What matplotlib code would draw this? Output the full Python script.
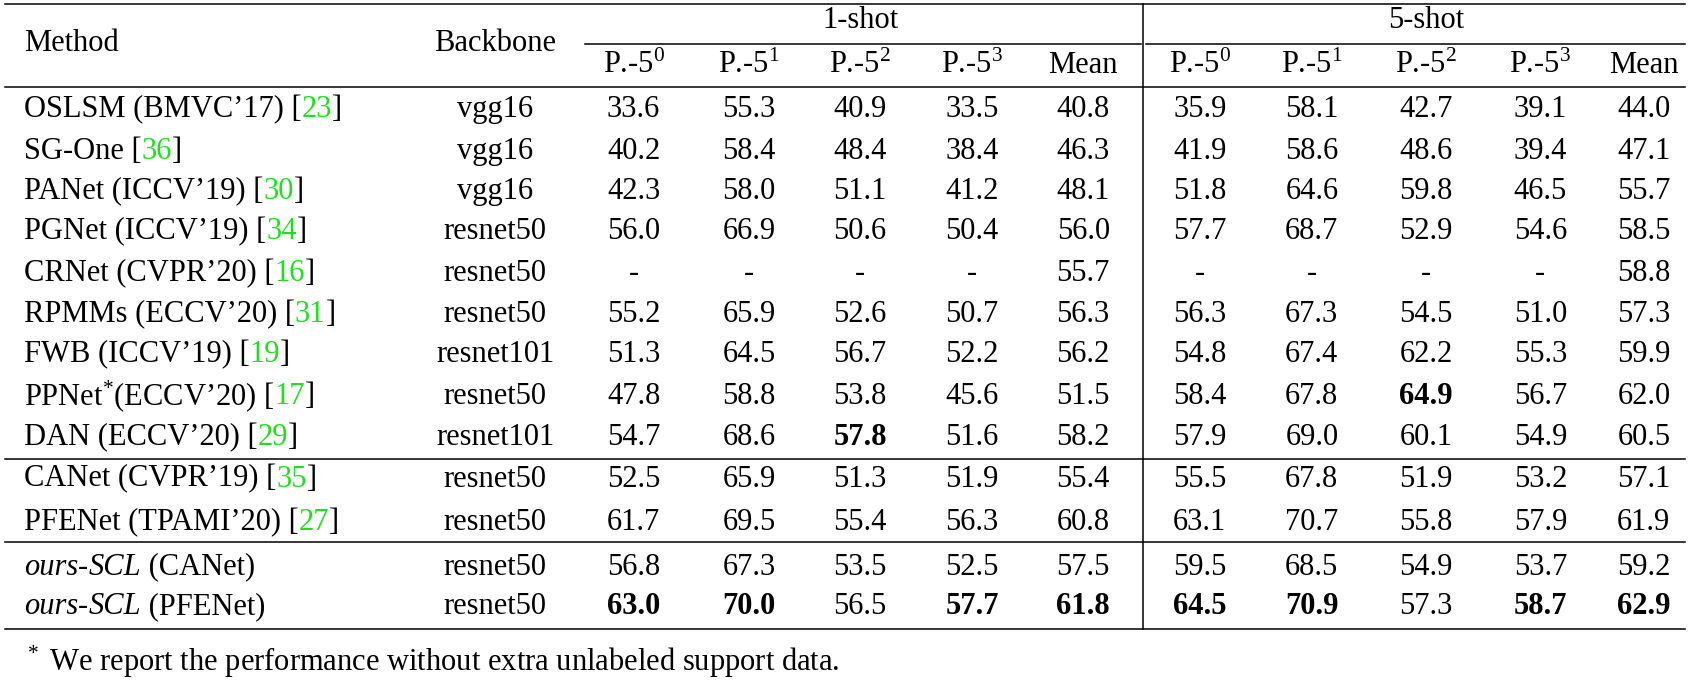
import matplotlib
matplotlib.use("Agg")
import matplotlib.pyplot as plt

plt.rcParams['font.family'] = ['Liberation Serif', 'DejaVu Serif']
plt.rcParams['mathtext.fontset'] = 'custom'
plt.rcParams['mathtext.rm'] = 'Liberation Serif'
plt.rcParams['mathtext.it'] = 'Liberation Serif:italic'

methods = [
    [("OSLSM (BMVC’17) [", 'k', 'normal'), ("23", 'g', 'normal'), ("]", 'k', 'normal')],
    [("SG-One [", 'k', 'normal'), ("36", 'g', 'normal'), ("]", 'k', 'normal')],
    [("PANet (ICCV’19) [", 'k', 'normal'), ("30", 'g', 'normal'), ("]", 'k', 'normal')],
    [("PGNet (ICCV’19) [", 'k', 'normal'), ("34", 'g', 'normal'), ("]", 'k', 'normal')],
    [("CRNet (CVPR’20) [", 'k', 'normal'), ("16", 'g', 'normal'), ("]", 'k', 'normal')],
    [("RPMMs (ECCV’20) [", 'k', 'normal'), ("31", 'g', 'normal'), ("]", 'k', 'normal')],
    [("FWB (ICCV’19) [", 'k', 'normal'), ("19", 'g', 'normal'), ("]", 'k', 'normal')],
    [("PPNet$^{*}$(ECCV’20) [", 'k', 'normal'), ("17", 'g', 'normal'), ("]", 'k', 'normal')],
    [("DAN (ECCV’20) [", 'k', 'normal'), ("29", 'g', 'normal'), ("]", 'k', 'normal')],
    [("CANet (CVPR’19) [", 'k', 'normal'), ("35", 'g', 'normal'), ("]", 'k', 'normal')],
    [("PFENet (TPAMI’20) [", 'k', 'normal'), ("27", 'g', 'normal'), ("]", 'k', 'normal')],
    [("ours", 'k', 'italic'), ("-", 'k', 'normal'), ("SCL", 'k', 'italic'), (" (CANet)", 'k', 'normal')],
    [("ours", 'k', 'italic'), ("-", 'k', 'normal'), ("SCL", 'k', 'italic'), (" (PFENet)", 'k', 'normal')],
]
backbones = ["vgg16", "vgg16", "vgg16", "resnet50", "resnet50", "resnet50", "resnet101",
             "resnet50", "resnet101", "resnet50", "resnet50", "resnet50", "resnet50"]
one_shot = [
    ["33.6", "55.3", "40.9", "33.5", "40.8"],
    ["40.2", "58.4", "48.4", "38.4", "46.3"],
    ["42.3", "58.0", "51.1", "41.2", "48.1"],
    ["56.0", "66.9", "50.6", "50.4", "56.0"],
    ["-", "-", "-", "-", "55.7"],
    ["55.2", "65.9", "52.6", "50.7", "56.3"],
    ["51.3", "64.5", "56.7", "52.2", "56.2"],
    ["47.8", "58.8", "53.8", "45.6", "51.5"],
    ["54.7", "68.6", "57.8", "51.6", "58.2"],
    ["52.5", "65.9", "51.3", "51.9", "55.4"],
    ["61.7", "69.5", "55.4", "56.3", "60.8"],
    ["56.8", "67.3", "53.5", "52.5", "57.5"],
    ["63.0", "70.0", "56.5", "57.7", "61.8"],
]
five_shot = [
    ["35.9", "58.1", "42.7", "39.1", "44.0"],
    ["41.9", "58.6", "48.6", "39.4", "47.1"],
    ["51.8", "64.6", "59.8", "46.5", "55.7"],
    ["57.7", "68.7", "52.9", "54.6", "58.5"],
    ["-", "-", "-", "-", "58.8"],
    ["56.3", "67.3", "54.5", "51.0", "57.3"],
    ["54.8", "67.4", "62.2", "55.3", "59.9"],
    ["58.4", "67.8", "64.9", "56.7", "62.0"],
    ["57.9", "69.0", "60.1", "54.9", "60.5"],
    ["55.5", "67.8", "51.9", "53.2", "57.1"],
    ["63.1", "70.7", "55.8", "57.9", "61.9"],
    ["59.5", "68.5", "54.9", "53.7", "59.2"],
    ["64.5", "70.9", "57.3", "58.7", "62.9"],
]
bold_one = {(8, 2), (12, 0), (12, 1), (12, 3), (12, 4)}
bold_five = {(7, 2), (12, 0), (12, 1), (12, 3), (12, 4)}
sub_headers = ["P.-5$^0$", "P.-5$^1$", "P.-5$^2$", "P.-5$^3$", "Mean"]
footnote = "$^*$ We report the performance without extra unlabeled support data."

W, H = 1707, 682
S = 1707 / 1568
fig = plt.figure(figsize=(W / 100, H / 100), dpi=100)
ax = fig.add_axes([0, 0, 1, 1])
# data coordinates measured on a 1568-wide view; scaled to full size
ax.set_xlim(0, W / S); ax.set_ylim(H / S, 0); ax.axis('off')
FS = 22
GREEN = '#22dd22'

def hline(y, x0=5, x1=1548, lw=1.1):
    ax.plot([x0, x1], [y, y], color='k', lw=lw)

hline(4); hline(80); hline(422); hline(498); hline(578)
ax.plot([537, 1048], [40, 40], color='k', lw=1.1)
ax.plot([1053, 1548], [40, 40], color='k', lw=1.1)
ax.plot([1050, 1050], [4, 578], color='k', lw=1.1)

ax.text(22, 40, "Method", fontsize=FS, va='center', ha='left')
ax.text(455, 40, "Backbone", fontsize=FS, va='center', ha='center')
ax.text(790, 19, "1-shot", fontsize=FS, va='center', ha='center')
ax.text(1310, 19, "5-shot", fontsize=FS, va='center', ha='center')
xs1 = [582, 688, 790, 893, 995]
xs5 = [1102, 1205, 1310, 1415, 1510]
for x, s in zip(xs1 + xs5, sub_headers * 2):
    ax.text(x, 60, s, fontsize=FS, va='center', ha='center')

ys = [101, 139, 176, 213, 251, 289, 326, 364, 402, 440, 480, 521, 557]
fig.canvas.draw()
r = fig.canvas.get_renderer()
inv = ax.transData.inverted()
for i, y in enumerate(ys):
    x = 22
    for s, c, st in methods[i]:
        t = ax.text(x, y, s, fontsize=FS, va='center', ha='left', style=st,
                    color=GREEN if c == 'g' else 'k')
        bb = t.get_window_extent(r)
        x = inv.transform((bb.x1, bb.y1))[0]
    ax.text(455, y, backbones[i], fontsize=FS, va='center', ha='center')
    for j in range(5):
        ax.text(xs1[j], y, one_shot[i][j], fontsize=FS, va='center', ha='center',
                weight='bold' if (i, j) in bold_one else 'normal')
        ax.text(xs5[j], y, five_shot[i][j], fontsize=FS, va='center', ha='center',
                weight='bold' if (i, j) in bold_five else 'normal')

ax.text(22, 608, footnote, fontsize=FS, va='center', ha='left')
fig.savefig("out.png", dpi=100)
